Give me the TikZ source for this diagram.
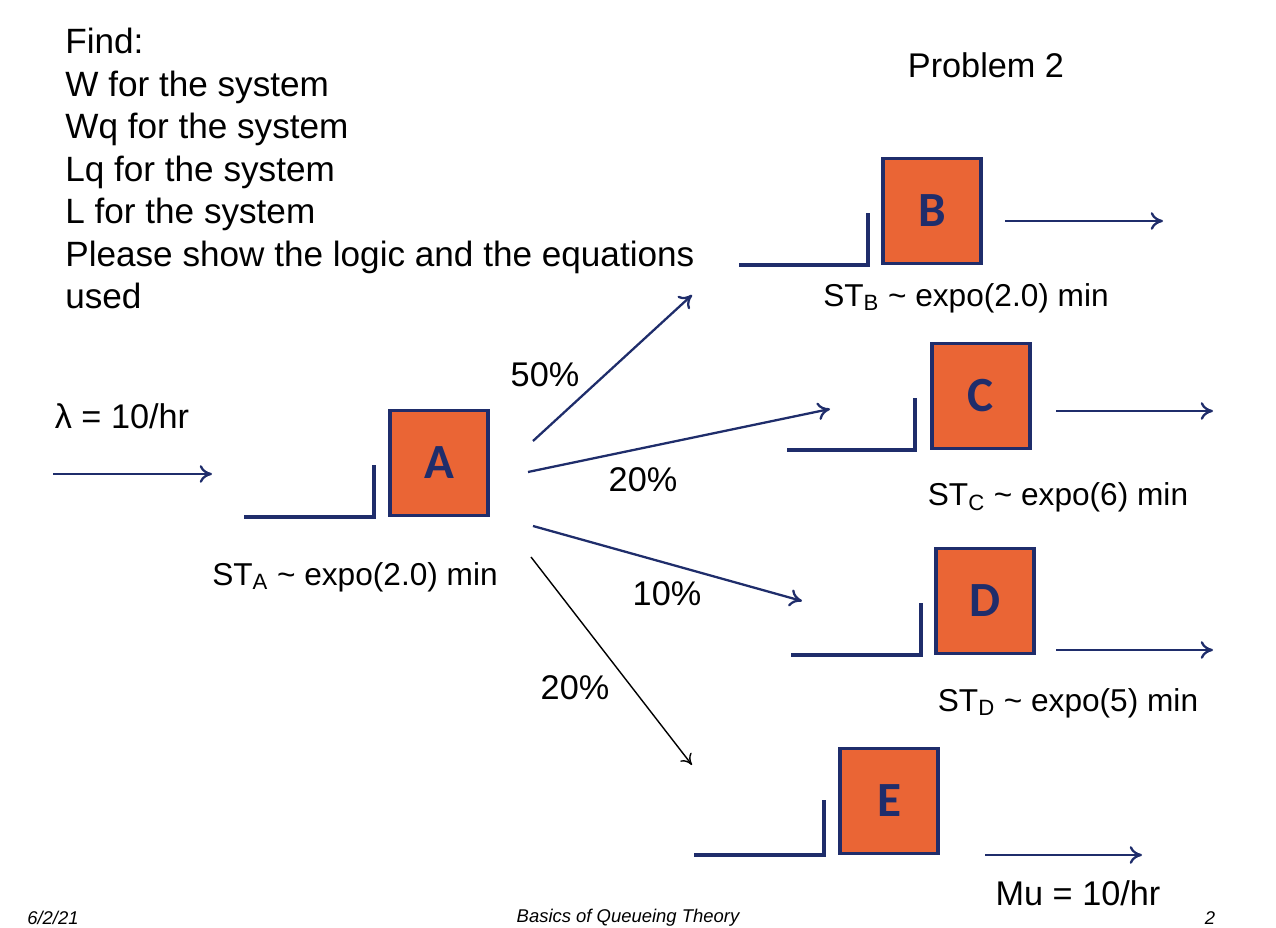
\documentclass[tikz,border=0pt]{standalone}
\usepackage{fontspec}
\usetikzlibrary{arrows.meta}
\setmainfont{Liberation Sans}
\newfontfamily\boxfont{Carlito}
\definecolor{navy}{HTML}{1F2D6B}
\definecolor{orng}{HTML}{EA6535}
\begin{document}
\begin{tikzpicture}[x=0.02cm,y=-0.02cm,
  srv/.style={draw=navy,line width=2.2pt,fill=orng,minimum width=1.96cm,minimum height=2.1cm,inner sep=0,font=\boxfont\bfseries\fontsize{28}{28}\selectfont,text=navy},
  que/.style={navy,line width=1.8pt},
  arr/.style={navy,line width=1.3pt,-{To[length=7pt,width=10pt]}},
  txt/.style={font=\fontsize{19.5}{23.8}\selectfont,inner sep=0},
  st/.style={font=\fontsize{18}{22}\selectfont,inner sep=0},
  foot/.style={font=\itshape\fontsize{10.5}{12}\selectfont,inner sep=0}]
\useasboundingbox (0,0) rectangle (1276,928);
% text
\node[font=\fontsize{20}{24.2}\selectfont,inner sep=0,anchor=north west,align=left] (find) at (65,28) {Find:\\W for the system\\Wq for the system\\Lq for the system\\L for the system\\Please show the logic and the equations\\used};
\node[txt] (prob) at (986,65) {Problem 2};
\node[txt] (lam) at (122,416) {λ = 10/hr};
\node[txt] (mu) at (1078,893) {Mu = 10/hr};
% servers
\node[srv] (A) at (439,463) {A};
\node[srv] (B) at (932,211) {B};
\node[srv] (C) at (981,396) {C};
\node[srv] (D) at (985,601) {D};
\node[srv] (E) at (889,801) {E};
% queues
\draw[que] (244,517) -- (374,517) -- (374,465);
\draw[que] (739,265) -- (868,265) -- (868,213);
\draw[que] (787,450) -- (915,450) -- (915,398);
\draw[que] (791,655) -- (921,655) -- (921,603);
\draw[que] (694,855) -- (824,855) -- (824,800);
% arrows
\coordinate (in0) at (53,474); \coordinate (in1) at (212,474);
\draw[arr] (in0) -- (in1);
\coordinate (bo0) at (1005,221); \coordinate (bo1) at (1163,221);
\draw[arr] (bo0) -- (bo1);
\coordinate (co0) at (1056,411); \coordinate (co1) at (1213,411);
\draw[arr] (co0) -- (co1);
\coordinate (do0) at (1056,650); \coordinate (do1) at (1213,650);
\draw[arr] (do0) -- (do1);
\coordinate (eo0) at (985,855); \coordinate (eo1) at (1142,855);
\draw[arr] (eo0) -- (eo1);
\coordinate (a1) at (533,441); \coordinate (b1) at (692,295);
\draw[arr] (a1) -- (b1);
\coordinate (a2) at (528,472); \coordinate (c1) at (830,409);
\draw[arr] (a2) -- (c1);
\coordinate (a3) at (533,526); \coordinate (d1) at (802,601);
\draw[arr] (a3) -- (d1);
\coordinate (a4) at (531,557); \coordinate (e1) at (692,765);
\draw[black,line width=0.8pt,-{To[length=6pt,width=8pt]}] (a4) -- (e1);
% labels
\node[txt] (p1) at (545,375) {50\%};
\node[txt] (p2) at (643,480) {20\%};
\node[txt] (p3) at (667,594) {10\%};
\node[txt] (p4) at (575,688) {20\%};
\node[st] (sa) at (355,577) {ST\textsubscript{A} \textasciitilde{} expo(2.0) min};
\node[st] (sb) at (966,298) {ST\textsubscript{B} \textasciitilde{} expo(2.0) min};
\node[st] (sc) at (1058,497) {ST\textsubscript{C} \textasciitilde{} expo(6) min};
\node[st] (sd) at (1068,703) {ST\textsubscript{D} \textasciitilde{} expo(5) min};
% footer
\node[foot,anchor=west] (f1) at (27,918) {6/2/21};
\node[foot] (f2) at (628,918) {Basics of Queueing Theory};
\node[foot] (f3) at (1210,918) {2};
\end{tikzpicture}
\end{document}
